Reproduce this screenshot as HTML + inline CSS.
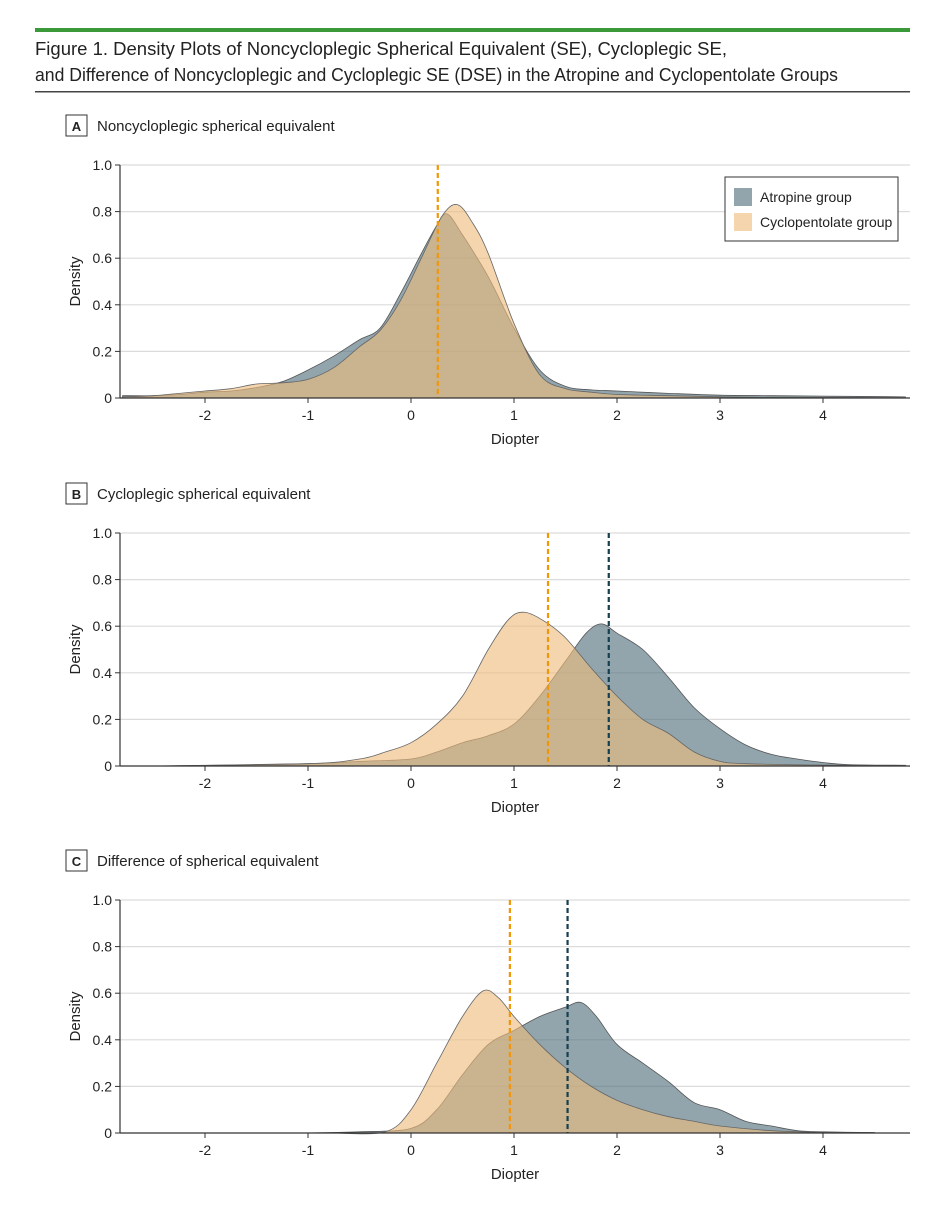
<!DOCTYPE html>
<html><head><meta charset="utf-8"><style>
body{margin:0;background:#fff;width:936px;height:1200px;overflow:hidden;font-family:"Liberation Sans",sans-serif}
svg text{font-family:"Liberation Sans",sans-serif}
</style></head><body>
<svg id="fig" width="936" height="1200" xmlns="http://www.w3.org/2000/svg">
<rect x="35" y="28" width="875" height="4" fill="#3a9a3a"/>
<text x="35" y="55" font-size="18" fill="#222" textLength="692" lengthAdjust="spacingAndGlyphs">Figure 1. Density Plots of Noncycloplegic Spherical Equivalent (SE), Cycloplegic SE,</text>
<text x="35" y="81" font-size="18" fill="#222" textLength="803" lengthAdjust="spacingAndGlyphs">and Difference of Noncycloplegic and Cycloplegic SE (DSE) in the Atropine and Cyclopentolate Groups</text>
<rect x="35" y="91" width="875" height="1.5" fill="#444"/>
<g id="charts"></g>
</svg>
<script>
// Panel A data
const aAtrX=[-2.8,-2.5,-2.25,-2,-1.75,-1.5,-1.25,-1,-0.75,-0.5,-0.3,-0.1,0.1,0.25,0.35,0.5,0.75,1,1.25,1.5,1.75,2,2.5,3,3.5,4,4.8];
const aAtrY=[0.01,0.01,0.015,0.025,0.03,0.045,0.07,0.12,0.18,0.25,0.3,0.45,0.62,0.74,0.79,0.7,0.52,0.3,0.12,0.05,0.035,0.03,0.02,0.012,0.01,0.008,0.005];
const aCycX=[-2.8,-2.5,-2.25,-2,-1.75,-1.5,-1.25,-1,-0.75,-0.5,-0.3,-0.1,0.1,0.3,0.45,0.6,0.75,1,1.25,1.5,1.75,2,2.5,3,3.5,4.8];
const aCycY=[0.005,0.01,0.02,0.03,0.04,0.06,0.065,0.08,0.13,0.22,0.29,0.42,0.6,0.78,0.83,0.75,0.62,0.32,0.1,0.04,0.025,0.015,0.01,0.005,0.003,0.001];
// Panel B data
const bAtrX=[-2.5,-1,-0.5,0,0.25,0.5,0.75,1,1.25,1.5,1.7,1.85,2,2.25,2.5,2.75,3,3.25,3.5,3.75,4,4.25,4.8];
const bAtrY=[0,0.01,0.02,0.03,0.06,0.1,0.13,0.18,0.3,0.45,0.57,0.61,0.57,0.5,0.38,0.25,0.16,0.09,0.05,0.03,0.015,0.006,0.003];
const bCycX=[-2.5,-1,-0.5,-0.25,0,0.25,0.5,0.75,0.95,1.1,1.3,1.5,1.75,2,2.25,2.5,2.75,3,3.25,4,4.8];
const bCycY=[0,0.01,0.03,0.06,0.1,0.18,0.3,0.5,0.63,0.66,0.62,0.55,0.42,0.3,0.2,0.14,0.06,0.02,0.01,0.004,0.001];
// Panel C data
const cAtrX=[-1,-0.5,0,0.25,0.5,0.75,1,1.25,1.5,1.65,1.8,2,2.25,2.5,2.75,3,3.25,3.5,3.75,4,4.5];
const cAtrY=[0,0.005,0.02,0.1,0.25,0.38,0.44,0.5,0.54,0.56,0.5,0.38,0.3,0.22,0.13,0.1,0.05,0.03,0.01,0.005,0.002];
const cCycX=[-0.75,-0.25,0,0.25,0.5,0.7,0.85,1,1.25,1.5,1.75,2,2.25,2.5,2.75,3,3.5,4,4.5];
const cCycY=[0,0.005,0.1,0.3,0.5,0.61,0.58,0.5,0.38,0.28,0.2,0.14,0.1,0.07,0.05,0.03,0.01,0.003,0.001];
const meanCyc=[0.26,1.33,0.96];
const meanAtr=[null,1.92,1.52];
const xTicks=[-2,-1,0,1,2,3,4];
const yTicks=[0,0.2,0.4,0.6,0.8,1.0];
const yTickLabels=["0","0.2","0.4","0.6","0.8","1.0"];
const panelLetters=["A","B","C"];
const panelTitles=["Noncycloplegic spherical equivalent","Cycloplegic spherical equivalent","Difference of spherical equivalent"];

const NS="http://www.w3.org/2000/svg";
const root=document.getElementById('charts');
const X0=120,X1=910;
const xs=v=>411+103*v;
function mk(tag,attrs,parent){const e=document.createElementNS(NS,tag);for(const k in attrs)e.setAttribute(k,attrs[k]);(parent||root).appendChild(e);return e;}
function smooth(pts){let d="M"+pts[0][0]+","+pts[0][1];for(let i=0;i<pts.length-1;i++){const p0=pts[Math.max(0,i-1)],p1=pts[i],p2=pts[i+1],p3=pts[Math.min(pts.length-1,i+2)];const c1x=p1[0]+(p2[0]-p0[0])/6,c1y=p1[1]+(p2[1]-p0[1])/6,c2x=p2[0]-(p3[0]-p1[0])/6,c2y=p2[1]-(p3[1]-p1[1])/6;d+=" C"+c1x+","+c1y+" "+c2x+","+c2y+" "+p2[0]+","+p2[1];}return d;}
const panels=[{top:165,bot:398,lbl:126,ax:aAtrX,ay:aAtrY,cx:aCycX,cy:aCycY},{top:533,bot:766,lbl:494,ax:bAtrX,ay:bAtrY,cx:bCycX,cy:bCycY},{top:900,bot:1133,lbl:861,ax:cAtrX,ay:cAtrY,cx:cCycX,cy:cCycY}];
panels.forEach((p,i)=>{
  const ys=v=>p.bot-(p.bot-p.top)*v;
  const g=mk('g',{});
  
  
  const box=mk('rect',{x:66,y:p.lbl-11,width:21,height:21,fill:'#fff',stroke:'#333','stroke-width':1},g);
  
  
  const lt=mk('text',{x:76.5,y:p.lbl+5,'font-size':13,'font-weight':'bold','text-anchor':'middle',fill:'#222'},g);lt.textContent=panelLetters[i];
  
  
  const tt=mk('text',{x:97,y:p.lbl+5,'font-size':15,fill:'#222'},g);tt.textContent=panelTitles[i];
  
  
  yTicks.forEach((t,j)=>{
    if(t>0){const gl=mk('line',{x1:X0,x2:X1,y1:ys(t),y2:ys(t),stroke:'#dcdcdc','stroke-width':1.2},g);
    
    }
    mk('line',{x1:X0-5,x2:X0,y1:ys(t),y2:ys(t),stroke:'#333'},g);
    const tl=mk('text',{x:X0-8,y:ys(t)+5,'font-size':14,'text-anchor':'end',fill:'#222'},g);tl.textContent=yTickLabels[j];
    
    
  });
  const areaPath=(xa,ya)=>{const pts=xa.map((x,k)=>[xs(x),ys(ya[k])]);return smooth(pts)+" L"+xs(xa[xa.length-1])+","+p.bot+" L"+xs(xa[0])+","+p.bot+" Z";};
  const aa=mk('path',{d:areaPath(p.ax,p.ay),fill:'#4f6d7a','fill-opacity':0.62,stroke:'#555','stroke-width':0.8},g);
  
  
  const ca=mk('path',{d:areaPath(p.cx,p.cy),fill:'#eebc7c','fill-opacity':0.62,stroke:'#666','stroke-width':0.8},g);
  
  
  const m1=mk('line',{x1:xs(meanCyc[i]),x2:xs(meanCyc[i]),y1:p.top,y2:p.bot,stroke:'#f0960a','stroke-width':2.2,'stroke-dasharray':'5,3'},g);
  
  
  if(meanAtr[i]!==null){const m2=mk('line',{x1:xs(meanAtr[i]),x2:xs(meanAtr[i]),y1:p.top,y2:p.bot,stroke:'#163f4f','stroke-width':2.2,'stroke-dasharray':'5,3'},g);
  
  }
  mk('line',{x1:X0,x2:X0,y1:p.top,y2:p.bot,stroke:'#333','stroke-width':1.2},g);
  mk('line',{x1:X0,x2:X1,y1:p.bot,y2:p.bot,stroke:'#333','stroke-width':1.2},g);
  xTicks.forEach(t=>{
    mk('line',{x1:xs(t),x2:xs(t),y1:p.bot,y2:p.bot+5,stroke:'#333'},g);
    const xl=mk('text',{x:xs(t),y:p.bot+22,'font-size':14,'text-anchor':'middle',fill:'#222'},g);xl.textContent=t<0?'-'+Math.abs(t):String(t);
    
    
  });
  const xt=mk('text',{x:515,y:p.bot+46,'font-size':15,'text-anchor':'middle',fill:'#222'},g);xt.textContent='Diopter';
  
  
  const yt=mk('text',{x:0,y:0,'font-size':15,'text-anchor':'middle',fill:'#222',transform:'translate(80,'+((p.top+p.bot)/2)+') rotate(-90)'},g);yt.textContent='Density';
  
  
});
// Legend
const lg=mk('g',{});


mk('rect',{x:725,y:177,width:173,height:64,fill:'#fff',stroke:'#333','stroke-width':1},lg);
const l1=mk('rect',{x:734,y:188,width:18,height:18,fill:'#4f6d7a','fill-opacity':0.62},lg);


const t1=mk('text',{x:760,y:202,'font-size':14,fill:'#222'},lg);t1.textContent='Atropine group';


const l2=mk('rect',{x:734,y:213,width:18,height:18,fill:'#eebc7c','fill-opacity':0.62},lg);


const t2=mk('text',{x:760,y:227,'font-size':14,fill:'#222'},lg);t2.textContent='Cyclopentolate group';


</script>
</body></html>
